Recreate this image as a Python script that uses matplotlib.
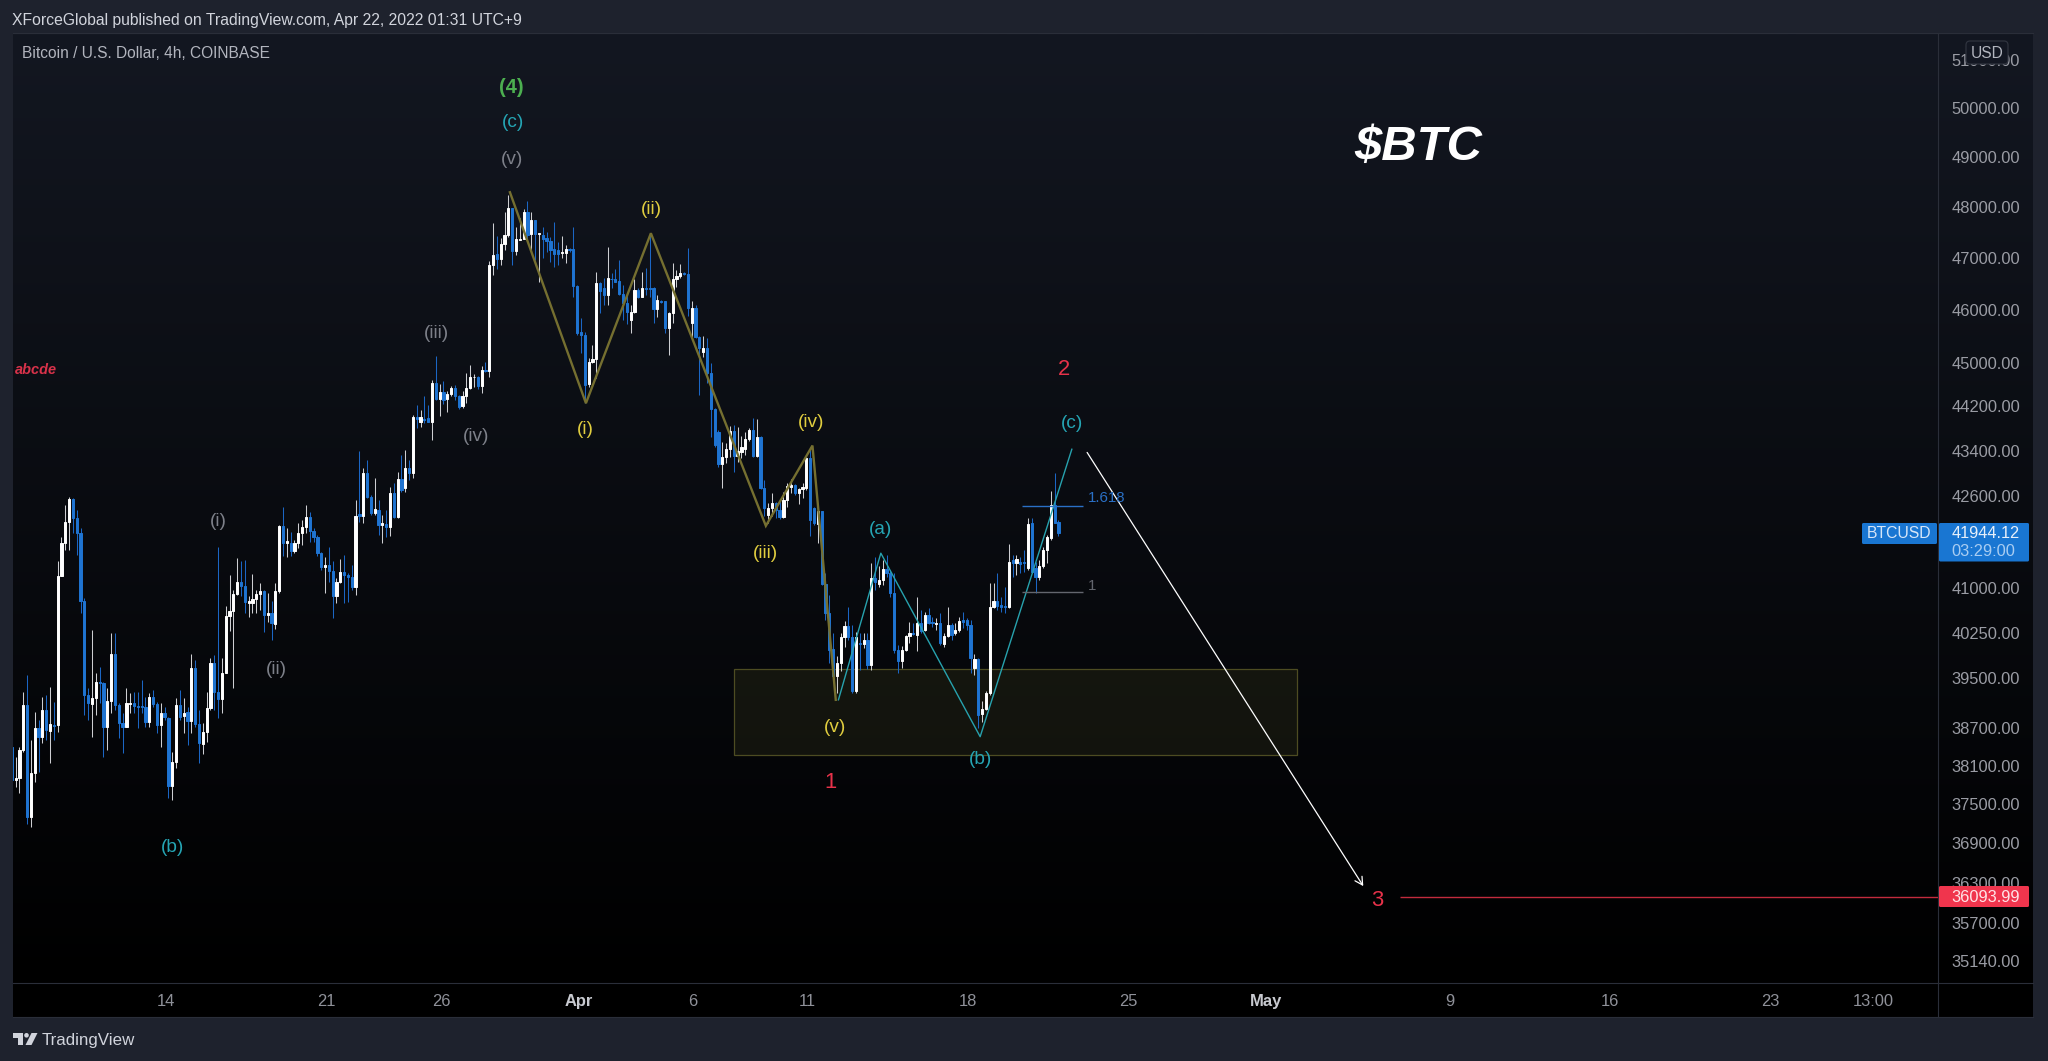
import numpy as np
import matplotlib
matplotlib.use("Agg")
import matplotlib.pyplot as plt
from matplotlib.patches import Rectangle, FancyBboxPatch, Polygon, Circle
from matplotlib.transforms import Affine2D
from matplotlib.ticker import FixedLocator, FixedFormatter, NullLocator

plt.rcParams['font.family'] = ['Liberation Sans', 'DejaVu Sans']

# ---------- candle data (USD), one entry per 4h bar ----------
candle_dir = ("bwwwbwwbwb" "wbwwwwbbbb" "bwwbbwwbbb" "wwbbbbwbbw" "bbwwbwbwbb"
              "wwwbbwwwww" "bbwwwwbwbw" "wbwbwwwwbb" "bbwbbwwbbb" "wbwbbwbwbw"
              "bwbwbwbwbb" "wbwbwwbbww" "wwbwbwwbww" "wbwwwbwbwb" "bbbbwwbbbb"
              "bwwwbbwbbb" "bbwwbwbbbw" "bbwwwwbbwb" "bwbbbbwwwb" "wwwwbwbbww"
              "bbwwwbwwwb" "bwbbbbwwwb" "bwbwbwbwwb" "bbbwwwbwbw" "bbwbwwbwwb"
              "bbwbwwwwbb" "bwbwbbwbbw" "wwwbb")

highs = [
 38560,38240,38402,39284,39556,38508,38959,38825,39203,39230,
 39365,39122,41456,41884,42433,42580,42551,42345,42028,40832,
 39338,40300,39583,39693,39446,39338,40245,40245,39095,38932,
 39338,39257,39284,39284,39473,39203,39257,39311,39122,39095,
 39040,38878,38323,39176,39311,39176,39040,39901,39802,38986,
 38772,39284,39830,39885,41712,39830,40691,41227,40972,41512,
 41456,41484,40860,41244,40972,41085,40972,40916,40775,41085,
 42085,42392,42028,41970,41827,42114,42171,42433,42316,42028,
 41913,41610,41530,41712,41456,41170,41495,41570,41256,41399,
 42521,43384,43085,43234,42610,42905,42521,42257,42345,42756,
 42815,43025,43324,43414,43234,44044,44227,44135,44380,44227,
 44685,45130,44612,44661,44490,44575,44593,44410,44490,44821,
 44963,44796,44759,44944,45025,46944,47687,47425,47379,47904,
 48236,47970,47609,47772,47951,48123,47904,47740,47478,47595,
 47510,47412,47707,47313,47425,47248,47183,47609,46474,45838,
 45587,45087,45335,46730,46538,46602,47215,46699,46776,46957,
 46474,46283,46093,46583,46411,46730,46795,47478,46443,46283,
 46187,46175,45965,46893,46764,46880,46730,47195,46175,46093,
 45505,45505,45461,44994,44165,43772,43561,43542,43844,43863,
 43820,43663,43742,43802,43983,43965,43662,42876,42465,42641,
 42494,42523,42670,42818,42888,42806,42729,42818,43291,43471,
 42395,42360,42320,41254,40885,40243,39859,40243,40455,40689,
 40382,40271,40243,40243,40243,41424,41540,41379,41482,41569,
 41310,41254,40051,40024,40215,40438,40410,40845,40633,40605,
 40661,40521,40494,40577,40243,40689,40410,40410,40521,40605,
 40494,40466,39903,39831,39124,39287,41094,41094,41254,40857,
 41027,41758,41569,41569,41540,41655,42203,42203,41453,41482,
 41712,41913,42686,42994,42174]

body_top = [
 38400,37900,38349,39067,39067,37982,38693,38693,38986,38986,
 38762,38746,41210,41781,42142,42533,42533,42199,41941,40775,
 39230,39176,39446,39446,39419,39138,39901,39901,39067,38783,
 39095,39105,39095,39051,39051,39040,39203,39203,39084,38943,
 38943,38862,38150,39067,39067,38943,38959,39666,39666,38762,
 38640,39013,39748,39748,39284,39583,40533,40623,40905,41113,
 41113,41029,40775,40815,40905,40944,40944,40578,40578,40944,
 42068,42068,41815,41781,41770,41941,42045,42216,42216,41987,
 41884,41598,41399,41399,41285,41113,41267,41267,41227,41187,
 42240,42270,43007,43007,42580,42357,42345,42125,42102,42639,
 42639,42887,42887,43085,43085,44014,44002,44014,43977,43983,
 44624,44624,44465,44465,44429,44532,44532,44380,44380,44532,
 44734,44747,44747,44870,44870,46854,47054,47073,47267,47445,
 47970,47970,47359,47359,47904,47904,47740,47740,47478,47445,
 47379,47333,47163,47150,47112,47176,47176,47163,46454,45587,
 45523,45025,45068,46519,46519,46411,46602,46596,46583,46557,
 46302,46124,45965,46379,46379,46411,46411,46424,46411,46187,
 46175,46175,45946,46583,46647,46712,46712,46686,46029,46029,
 45492,45272,45272,44809,44147,43742,43280,43422,43760,43760,
 43399,43458,43603,43772,43772,43651,43650,42729,42378,42465,
 42465,42349,42523,42770,42782,42782,42711,42747,43261,43261,
 42378,42320,42320,41072,40577,39980,39749,40188,40365,40365,
 40188,40188,40078,40133,40133,41168,41168,41140,41322,41322,
 41265,40913,39969,39958,40199,40243,40243,40410,40421,40549,
 40549,40438,40421,40421,40199,40382,40382,40299,40455,40466,
 40466,40382,39815,39815,39000,39260,40677,40789,40789,40716,
 40700,41453,41482,41494,41453,41453,42105,42116,41339,41379,
 41655,41873,42436,42436,42145]

body_bottom = [
 37880,37880,37904,38349,37306,37306,37982,38561,38561,38666,
 38656,38730,38746,41210,41781,42142,42199,41941,40775,39230,
 39095,39084,39176,39419,38719,38719,39138,39067,38772,38719,
 38719,39084,39051,39040,39030,38799,38799,39084,38746,38746,
 38878,37783,37783,38150,38878,38894,38814,38814,38762,38455,
 38444,38640,39013,39284,39160,39160,39583,40533,40623,40905,
 41029,40758,40747,40747,40815,40905,40550,40550,40411,40400,
 40944,41770,41781,41627,41627,41770,41941,42045,41987,41884,
 41598,41359,41359,41285,40860,40860,41113,41227,41187,41018,
 41018,42240,42240,42580,42287,42287,42085,42085,42045,42045,
 42228,42216,42698,42727,42995,42994,43965,43923,43953,43923,
 43923,44331,44331,44318,44331,44429,44380,44196,44208,44380,
 44532,44734,44575,44575,44858,44858,46854,46983,46983,47267,
 47445,47138,47138,47346,47359,47445,47464,47464,47458,47359,
 47333,47150,47073,47073,47086,47097,47150,46454,45557,45523,
 44593,44612,45025,45068,46366,46283,46283,46583,46538,46302,
 46124,45965,45807,45965,46238,46251,46398,46404,46009,46009,
 46156,45650,45650,45946,46583,46647,46686,46029,45744,45480,
 45272,45210,44809,44147,43500,43160,43160,43280,43422,43303,
 43303,43381,43422,43603,43303,43303,42729,42378,42261,42378,
 42349,42221,42221,42523,42759,42641,42641,42711,42729,42163,
 42116,42105,41072,40577,39969,39531,39531,39749,40188,40188,
 39287,39287,40067,40067,39721,39721,41112,41066,41140,41253,
 40913,39958,39777,39777,39958,40199,40232,40215,40288,40299,
 40421,40410,40399,40078,40067,40199,40215,40243,40299,40438,
 40382,39831,39667,38909,38925,39000,39260,40677,40700,40689,
 40677,40677,41436,41424,41413,41424,41339,41282,41197,41197,
 41379,41655,41856,42128,41944.12]

lows = [
 37590,37770,37669,38320,37200,37150,37851,38008,38455,38508,
 38139,38508,38640,41210,41655,41655,41941,41570,40578,38905,
 38825,38561,38905,39095,38244,38349,38932,38986,38534,38307,
 38719,38932,38932,38693,38932,38719,38719,39040,38613,38402,
 38825,37591,37565,38061,38825,38613,38428,38613,38719,38139,
 38286,38481,38986,38986,38851,38932,39583,40273,39338,40888,
 40860,40578,40522,40578,40578,40635,40256,40439,40134,40311,
 40916,41541,41530,41553,41598,41684,41741,41941,41798,41798,
 41541,41313,40916,41113,40494,40747,41085,40747,40758,40972,
 40888,42130,42114,42551,42257,42257,41913,41770,41884,41895,
 42199,42199,42668,42668,42875,42905,43802,43832,43893,43923,
 43591,44318,44025,44245,44104,44392,44318,44147,44165,44270,
 44514,44563,44514,44441,44839,44734,46667,46777,46861,47150,
 47412,46861,47054,47346,47359,47359,47117,46957,46538,46990,
 47117,46925,46828,46861,46990,46905,47117,46251,45513,45179,
 44257,44563,45006,44716,45933,46093,46093,46411,46538,46283,
 45807,45731,45555,45946,46219,46238,46283,46251,45756,45857,
 46124,45555,45148,45744,46443,46602,46667,45883,45480,45461,
 44410,45118,44624,43650,43470,43113,42726,43172,43292,43024,
 43202,43262,43321,43579,43280,43292,42711,42233,42116,42233,
 42204,42186,42204,42395,42641,42611,42453,42552,42700,41885,
 42087,41770,41055,40466,39749,39450,39260,39613,40023,40133,
 39260,39260,39640,39996,39651,39640,40970,41015,41055,41197,
 40857,39914,39585,39667,39941,40078,40215,39941,40243,40288,
 40399,40354,40299,40051,40012,40188,40133,40215,40271,40326,
 40299,39585,39558,38694,38801,38990,39232,40661,40633,40605,
 40577,40661,41197,41225,41253,41282,41310,41253,40913,41140,
 41339,41424,41827,42116,41895]

# ---------- wave drawings (bar index, price) ----------
gold_bars = [130.4, 150.3, 167.3, 197.4, 209.6, 215.7]
gold_prices = [48289, 44257, 47478, 42070, 43489, 39151]
teal_bars = [216.4, 227.5, 253.5, 277.5]
teal_prices = [39151, 41597, 38559, 43423]
fib_bars = [264.4, 280.3]
fib_levels = [42418, 40930]
zone_bars = [189.1, 336.5]
zone_prices = [38270, 39651]
arrow_bars = [281.5, 353.8]
arrow_prices = [43366, 36250]
target_price = 36093.99
target_start_bar = 363.4
last_price = 41944.12

price_ticks = [35140, 35700, 36300, 36900, 37500, 38100, 38700, 39500, 40250, 41000,
               42600, 43400, 44200, 45000, 46000, 47000, 48000, 49000, 50000, 51000]
time_labels = ['14', '21', '26', 'Apr', '6', '11', '18', '25', 'May', '9', '16', '23', '13:00']
time_days = [0, 7, 12, 18, 23, 28, 35, 42, 48, 56, 63, 70, 74.5]   # days after Mar 14

W, H = 2048, 1061
FRAME = '#1e222d'
fig = plt.figure(figsize=(W / 100, H / 100), dpi=100, facecolor=FRAME)
PX = Affine2D().scale(1, -1).translate(0, H)

def rect_ax(l, t, r, b, **kw):
    return fig.add_axes([l / W, 1 - b / H, (r - l) / W, (b - t) / H], **kw)

# gradient background
bg = rect_ax(13, 33, 2033, 1017, zorder=-2)
grad = np.linspace(0, 1, 256)[:, None, None]
top = np.array([19, 23, 33]) / 255
rgb = np.clip(1 - grad / 0.97, 0, 1) * top
bg.imshow(rgb, aspect='auto', extent=(0, 1, 0, 1), interpolation='bilinear')
bg.axis('off')

ax = rect_ax(13, 33, 1938, 983, zorder=0)
ax.patch.set_alpha(0)
for s in ax.spines.values():
    s.set_visible(False)

n = len(highs)
x = np.arange(n)
highs_a, lows_a = np.array(highs, float), np.array(lows, float)
top_a, bot_a = np.array(body_top, float), np.array(body_bottom, float)
up = np.array([c == 'w' for c in candle_dir])

WHITE, BLUE = '#ffffff', '#1f74d2'
ax.vlines(x[up], lows_a[up], highs_a[up], colors='#cdced2', lw=0.75, zorder=2)
ax.vlines(x[~up], lows_a[~up], highs_a[~up], colors='#1b66c4', lw=0.75, zorder=2)
ax.bar(x[up], (top_a - bot_a)[up], bottom=bot_a[up], width=0.58, color=WHITE,
       edgecolor=WHITE, linewidth=0.7, zorder=3)
ax.bar(x[~up], (top_a - bot_a)[~up], bottom=bot_a[~up], width=0.58, color=BLUE,
       edgecolor=BLUE, linewidth=0.7, zorder=3)

ax.set_yscale('log')
ax.set_ylim(34827, 51574)
ax.set_xlim(0.314, 504.25)

# zone, waves, fib levels
ax.add_patch(Rectangle((zone_bars[0], zone_prices[0]), zone_bars[1] - zone_bars[0],
                       zone_prices[1] - zone_prices[0], facecolor=(0.80, 0.78, 0.30, 0.075),
                       edgecolor='#4d4c22', linewidth=0.9, zorder=1))
ax.plot(gold_bars, gold_prices, color='#756f30', lw=1.7, zorder=4, solid_joinstyle='miter')
ax.plot(teal_bars, teal_prices, color='#27a2ae', lw=1.0, zorder=4)
ax.hlines(fib_levels[0], fib_bars[0], fib_bars[1], color='#2a70c6', lw=1.0, zorder=4)
ax.hlines(fib_levels[1], fib_bars[0], fib_bars[1], color='#63666e', lw=1.0, zorder=4)
ax.hlines(target_price, target_start_bar, 504.25, color='#c22b3d', lw=1.0, zorder=4)
ax.annotate('', xy=(arrow_bars[1], arrow_prices[1]), xytext=(arrow_bars[0], arrow_prices[0]),
            arrowprops=dict(arrowstyle='->,head_length=0.55,head_width=0.3', color='white',
                            lw=0.9, shrinkA=0, shrinkB=0), zorder=5)

# axes
ax.yaxis.tick_right()
ax.yaxis.set_major_locator(FixedLocator(price_ticks))
ax.yaxis.set_major_formatter(FixedFormatter([f'{p:.2f}' for p in price_ticks]))
ax.yaxis.set_minor_locator(NullLocator())
ax.tick_params(axis='y', which='both', length=0, pad=9.5, labelsize=11.9, labelcolor='#9a9ca4')
for lab in ax.get_yticklabels():
    lab.set_ha('left')
ax.set_xticks([40.35 + 6 * d for d in time_days])
ax.set_xticklabels(time_labels)
ax.tick_params(axis='x', length=0, pad=8, labelsize=11.9, labelcolor='#8f9199')
for lab in ax.get_xticklabels():
    if lab.get_text() in ('Apr', 'May'):
        lab.set_fontweight('bold')
        lab.set_color('#c8cad0')

def px_line(x0, y0, x1, y1, c='#2a2e39', lw=0.8, z=1):
    fig.add_artist(plt.Line2D([x0, x1], [y0, y1], color=c, lw=lw, transform=PX, zorder=z))

px_line(1938, 33, 1938, 1017)
px_line(13, 983, 2033, 983)
px_line(13, 33, 2033, 33)
px_line(13, 1017, 2033, 1017)

def t(x0, y0, s, color, size_px, ha='center', va='center', **kw):
    fig.text(x0, y0, s, color=color, fontsize=size_px * 0.72, ha=ha, va=va,
             transform=PX, zorder=6, **kw)

YEL, GRY, TEAL, RED = '#e0cd3f', '#7d8089', '#25a5b4', '#e8324a'
t(511, 87.5, '(4)', '#4caf50', 20, fontweight='bold')
for (px, py, s, c) in [(513, 122.5, '(c)', TEAL), (512, 159.5, '(v)', GRY), (651, 210, '(ii)', YEL),
                       (436.5, 334, '(iii)', GRY), (476, 436.5, '(iv)', GRY), (585.5, 430, '(i)', YEL),
                       (811, 422.5, '(iv)', YEL), (1072, 424, '(c)', TEAL), (880.5, 529, '(a)', TEAL),
                       (765.5, 554, '(iii)', YEL), (218.5, 522, '(i)', GRY), (276, 669.5, '(ii)', GRY),
                       (172.5, 848, '(b)', TEAL), (835, 727.5, '(v)', YEL), (980, 759.5, '(b)', TEAL)]:
    t(px, py, s, c, 19)
t(1064, 369.5, '2', RED, 22)
t(831, 782.5, '1', RED, 22)
t(1377, 900.5, '3', RED, 22)
t(1088, 498.5, '1.618', '#2a70c6', 15, ha='left')
t(1088, 585.5, '1', '#63666e', 15, ha='left')
t(1418, 147, '$BTC', 'white', 49, fontweight='bold', fontstyle='italic')
t(15, 370, 'abcde', '#d8324a', 14.5, ha='left', fontweight='bold', fontstyle='italic')
t(12, 20, 'XForceGlobal published on TradingView.com, Apr 22, 2022 01:31 UTC+9', '#d1d4dc', 15.75, ha='left')
t(22, 54, 'Bitcoin / U.S. Dollar, 4h, COINBASE', '#b2b5be', 15.5, ha='left')
t(42, 1040, 'TradingView', '#d1d4dc', 16.9, ha='left')

# logo
LOGO = '#d1d4dc'
fig.add_artist(Polygon([(13, 1033), (22.5, 1033), (22.5, 1045), (18, 1045), (18, 1037.5), (13, 1037.5)],
                       closed=True, fc=LOGO, ec='none', transform=PX, zorder=6))
fig.add_artist(Circle((26.5, 1035.3), 2.3, fc=LOGO, ec='none', transform=PX, zorder=6))
fig.add_artist(Polygon([(31.5, 1033), (37.5, 1033), (31.5, 1045), (25.5, 1045)],
                       closed=True, fc=LOGO, ec='none', transform=PX, zorder=6))

# price tags
def tag(x0, y0, x1, y1, c):
    fig.add_artist(FancyBboxPatch((x0 + 1.5, y0 + 1.5), x1 - x0 - 3, y1 - y0 - 3,
                                  boxstyle='round,pad=1.5,rounding_size=1.5', fc=c, ec='none',
                                  transform=PX, zorder=5))

tag(1862, 523, 1937, 544, '#1976d2')
tag(1939, 523, 2029, 561.5, '#1976d2')
tag(1939, 886, 2029, 907, '#f0354d')
t(1899.5, 533.5, 'BTCUSD', '#d6e6f8', 15.8)
t(1951.5, 533.5, f'{last_price:.2f}', '#e6effa', 16.4, ha='left')
t(1951.5, 551, '03:29:00', '#a9cdf2', 16.4, ha='left')
t(1951.5, 897, f'{target_price:.2f}', '#ffe3e6', 16.4, ha='left')

fig.add_artist(FancyBboxPatch((1968, 43), 38, 19, boxstyle='round,pad=2,rounding_size=4',
                              fc='#131722', ec='#2f333e', lw=0.9, transform=PX, zorder=5))
t(1987, 53, 'USD', '#b2b5be', 15.5)

fig.savefig('out.png', dpi=100, facecolor=FRAME)
